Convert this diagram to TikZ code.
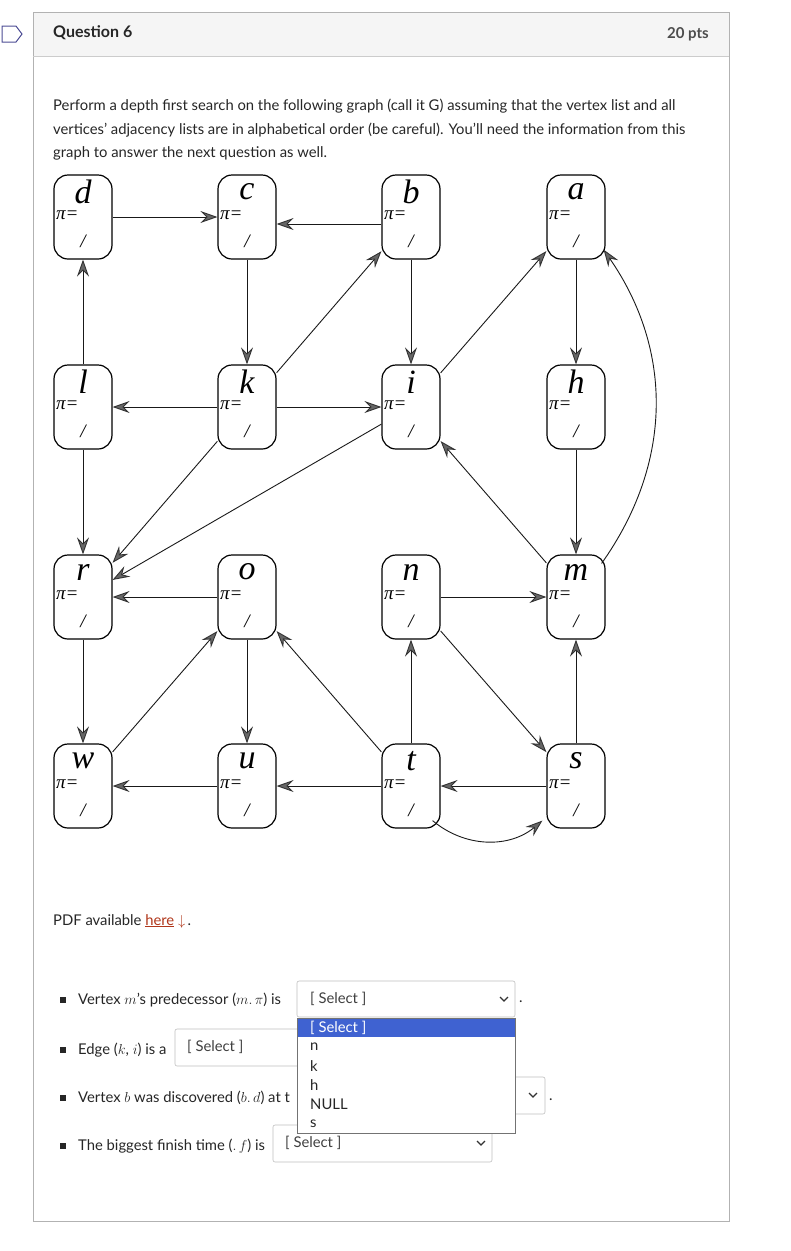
\documentclass[tikz,border=0pt]{standalone}
\usepackage{fontspec}
\setmainfont{Lato}
\newfontfamily\vfont{Liberation Serif}
\usetikzlibrary{arrows.meta,positioning}
\definecolor{selblue}{HTML}{3F62D1}
\definecolor{linkred}{HTML}{B0361A}
\tikzset{
  vbox/.style={draw, line width=1.2pt, rounded corners=14pt, minimum width=58pt, minimum height=84pt},
  vlet/.style={inner sep=0pt, font=\vfont\itshape\fontsize{34}{34}\selectfont},
  vpi/.style={inner sep=0pt, font=\vfont\itshape\fontsize{19}{19}\selectfont},
  arr/.style={-{Stealth[length=17pt,width=12pt,inset=6pt,fill=gray!80!black,color=black!80]}, black!90, line width=0.9pt},
  txt/.style={inner sep=0pt, anchor=west, font=\fontsize{14.8}{17}\selectfont, text=black!85},
  selbox/.style={draw=black!25, fill=white, line width=0.6pt, rounded corners=2pt}
}
\newcommand\vtx[4]{%
  \node[vbox] (#1) at (#3,#4) {};
  \node[vlet] at ([yshift=25]#1.center) {#2};
  \node[vpi, anchor=west] at ([xshift=-27,yshift=2]#1.center) {π=};
  \node[vpi] at ([yshift=-24]#1.center) {/};
}
\begin{document}
\begin{tikzpicture}[x=1pt,y=-1pt]
\useasboundingbox (0,0) rectangle (791,1251);
% frame and header
\draw[black!30] (33,12) rectangle (729,1221);
\fill[black!4] (33.5,12.5) rectangle (728.5,56);
\draw[black!20] (33,56) -- (729,56);
\draw[black!60!blue!70, line width=1pt] (2,26) -- (16,26) -- (22,34) -- (16,42) -- (2,42) -- cycle;
\node[txt, font=\fontsize{16}{16}\bfseries] (qtitle) at (53,33) {Question 6};
\node[txt, anchor=east, font=\fontsize{15}{15}\bfseries, text=black!70] (qpts) at (709,34) {20 pts};
% intro text
\node[txt] (par1) at (53,106) {Perform a depth first search on the following graph (call it G) assuming that the vertex list and all};
\node[txt] (par2) at (53,130) {vertices' adjacency lists are in alphabetical order (be careful). You'll need the information from this};
\node[txt] (par3) at (53,153) {graph to answer the next question as well.};
% vertices
\vtx{d}{d}{83}{217}
\vtx{c}{c}{247}{217}
\vtx{b}{b}{411}{217}
\vtx{a}{a}{576}{217}
\vtx{l}{l}{83}{407}
\vtx{k}{k}{247}{407}
\vtx{i}{i}{411}{407}
\vtx{h}{h}{576}{407}
\vtx{r}{r}{83}{597}
\vtx{o}{o}{247}{597}
\vtx{n}{n}{411}{597}
\vtx{m}{m}{576}{597}
\vtx{w}{w}{83}{786}
\vtx{u}{u}{247}{786}
\vtx{t}{t}{411}{786}
\vtx{s}{s}{576}{786}
% edges
\draw[arr] (d) -- (c);
\draw[arr] ([yshift=-7]b.west) -- ([yshift=-7]c.east);
\draw[arr] (c) -- (k);
\draw[arr] (l) -- (d);
\draw[arr] (k) -- (l);
\draw[arr] (k) -- (b);
\draw[arr] (k) -- (i);
\draw[arr] (b) -- (i);
\draw[arr] (i) -- (a);
\draw[arr] (a) -- (h);
\draw[arr] (h) -- (m);
\draw[arr] ([xshift=-4,yshift=-9]m.north east) to[bend right=35] ([xshift=-2,yshift=10]a.south east);
\draw[arr] (i) -- (r);
\draw[arr] (k) -- (r);
\draw[arr] (l) -- (r);
\draw[arr] (m) -- (i);
\draw[arr] (o) -- (r);
\draw[arr] (n) -- (m);
\draw[arr] (n) -- (s);
\draw[arr] (r) -- (w);
\draw[arr] (w) -- (o);
\draw[arr] (o) -- (u);
\draw[arr] (t) -- (o);
\draw[arr] (t) -- (n);
\draw[arr] (s) -- (t);
\draw[arr] (t) -- (u);
\draw[arr] (u) -- (w);
\draw[arr] (s) -- (m);
\draw[arr] ([xshift=-8,yshift=8]t.south east) to[bend right=40] ([xshift=-4,yshift=8]s.south west);
% pdf line
\node[txt] (pdf) at (53,921) {PDF available \textcolor{linkred}{\underline{here}} \textcolor{linkred}{$\downarrow$}\,.};
% questions
\foreach \yy in {1000,1050,1098,1146} \fill[black!85] (60,\yy-3) rectangle (66,\yy+3);
\node[txt] (q1) at (78,1000) {Vertex $m$'s predecessor ($m.\,\pi$) is};
\node[txt] (q2) at (78,1050) {Edge ($k$, $i$) is a};
\node[txt] (q3) at (78,1098) {Vertex $b$ was discovered ($b.\,d$) at t};
\node[txt] (q4) at (78,1146) {The biggest finish time ($.\,f$) is};
\draw[selbox] (175,1029) rectangle (330,1066);
\node[txt, text=black!75] (s2) at (187,1047) {[ Select ]};
\draw[selbox] (480,1077) rectangle (545,1114);
\draw[black!80, line width=1.3pt] (529,1093) -- (533,1097) -- (537,1093);
\node[txt] at (549,1100) {.};
\draw[selbox] (273,1125) rectangle (492,1162);
\node[txt, text=black!75] (s4) at (285,1143) {[ Select ]};
\draw[black!80, line width=1.3pt] (477,1141) -- (481,1145) -- (485,1141);
\draw[selbox] (297,981) rectangle (515,1017);
\node[txt, text=black!75] (s1) at (310,999) {[ Select ]};
\draw[black!80, line width=1.3pt] (500,997) -- (504,1001) -- (508,997);
\node[txt] at (519,1002) {.};
% open list
\draw[fill=white, draw=black!55, line width=0.8pt] (297,1018) rectangle (515,1133);
\fill[selblue] (297.5,1018.5) rectangle (514.5,1037);
\node[txt, text=white] (o0) at (310,1028) {[ Select ]};
\node[txt] (o1) at (310,1047) {n};
\node[txt] (o2) at (310,1066) {k};
\node[txt] (o3) at (310,1085) {h};
\node[txt] (o4) at (310,1104) {NULL};
\node[txt] (o5) at (310,1124) {s};
\end{tikzpicture}
\end{document}
